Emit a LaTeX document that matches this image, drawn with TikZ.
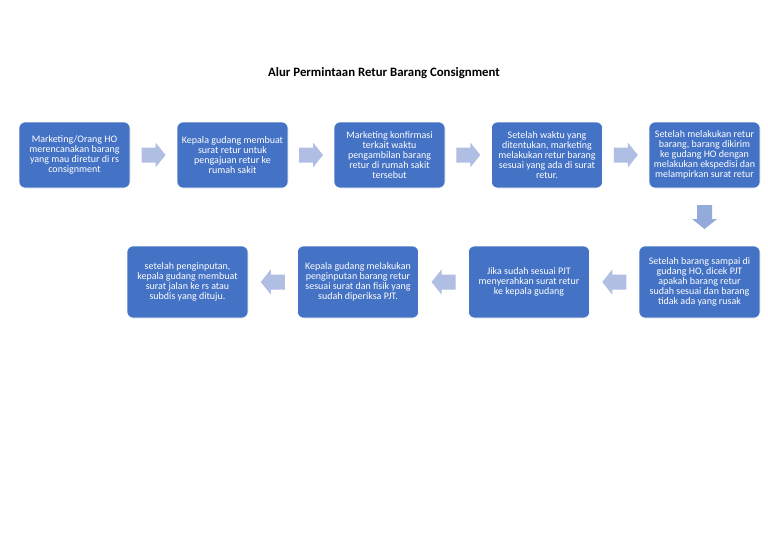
\documentclass[tikz,border=0pt]{standalone}
\usepackage{fontspec}
\setmainfont{Carlito}
\usetikzlibrary{calc}
\definecolor{boxblue}{HTML}{4472C4}
\definecolor{arrowblue}{HTML}{B0BEE3}
\definecolor{downblue}{HTML}{93AADB}
\tikzset{
  stepbox/.style={draw=white, line width=0.6pt, fill=boxblue, rounded corners=6pt,
    text=white, align=center, inner sep=2pt,
    font=\fontsize{10}{10}\selectfont},
  rowone/.style={stepbox, minimum width=111pt, minimum height=66pt},
  rowtwo/.style={stepbox, minimum width=121pt, minimum height=72pt},
  blockarrow/.pic={\fill[#1] (-12,-7.5)--(2,-7.5)--(2,-12.5)--(12,0)--(2,12.5)--(2,7.5)--(-12,7.5)--cycle;},
}
\begin{document}
\begin{tikzpicture}[x=1pt,y=-1pt]
\useasboundingbox[fill=white] (0,0) rectangle (768,543);
\node[font=\fontsize{12.8}{15}\selectfont\bfseries] (title) at (384,73) {Alur Permintaan Retur Barang Consignment};
\node[rowone] (b1) at (74.5,155) {Marketing/Orang HO\\merencanakan barang\\yang mau diretur di rs\\consignment};
\node[rowone] (b2) at (232.5,155) {Kepala gudang membuat\\surat retur untuk\\pengajuan retur ke\\rumah sakit};
\node[rowone] (b3) at (389.5,155) {Marketing konfirmasi\\terkait waktu\\pengambilan barang\\retur di rumah sakit\\tersebut};
\node[rowone] (b4) at (547,155) {Setelah waktu yang\\ditentukan, marketing\\melakukan retur barang\\sesuai yang ada di surat\\retur.};
\node[rowone] (b5) at (704.5,155) {Setelah melakukan retur\\barang, barang dikirim\\ke gudang HO dengan\\melakukan ekspedisi dan\\melampirkan surat retur};
\node[rowtwo] (b6) at (699.5,282) {Setelah barang sampai di\\gudang HO, dicek PJT\\apakah barang retur\\sudah sesuai dan barang\\tidak ada yang rusak};
\node[rowtwo] (b7) at (529,282) {Jika sudah sesuai PJT\\menyerahkan surat retur\\ke kepala gudang};
\node[rowtwo] (b8) at (358,282) {Kepala gudang melakukan\\penginputan barang retur\\sesuai surat dan fisik yang\\sudah diperiksa PJT.};
\node[rowtwo] (b9) at (187.5,282) {setelah penginputan,\\kepala gudang membuat\\surat jalan ke rs atau\\subdis yang dituju.};
\pic at ($(b1.east)!0.5!(b2.west)$) {blockarrow=arrowblue};
\pic at ($(b2.east)!0.5!(b3.west)$) {blockarrow=arrowblue};
\pic at ($(b3.east)!0.5!(b4.west)$) {blockarrow=arrowblue};
\pic at ($(b4.east)!0.5!(b5.west)$) {blockarrow=arrowblue};
\pic[rotate=-90] at ($(b5.south)!0.5!(b5.south|-b6.north)$) {blockarrow=downblue};
\pic[rotate=180] at ($(b6.west)!0.5!(b7.east)$) {blockarrow=arrowblue};
\pic[rotate=180] at ($(b7.west)!0.5!(b8.east)$) {blockarrow=arrowblue};
\pic[rotate=180] at ($(b8.west)!0.5!(b9.east)$) {blockarrow=arrowblue};
\end{tikzpicture}
\end{document}
